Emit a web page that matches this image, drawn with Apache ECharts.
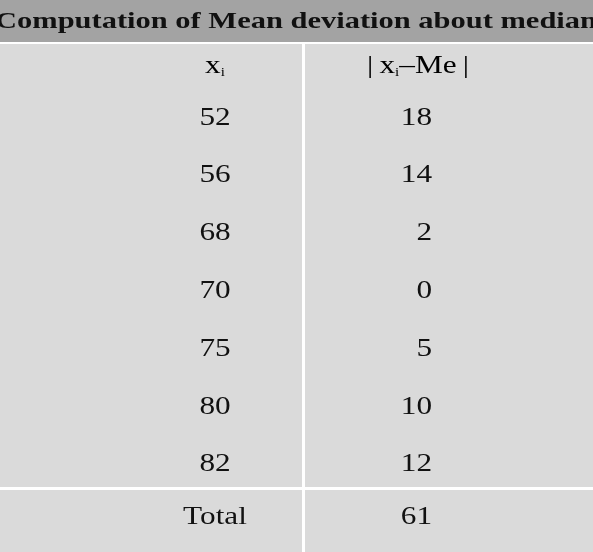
<!DOCTYPE html>
<html><head><meta charset="utf-8">
<script src="https://cdn.jsdelivr.net/npm/echarts@6/dist/echarts.min.js"></script>
<style>html,body{margin:0;padding:0;background:#fff}#c{width:593px;height:552px}</style>
</head><body><div id="c"></div>
<script>
// table data
const title = 'Computation of Mean deviation about median';
const xi = [52, 56, 68, 70, 75, 80, 82];
const dev = [18, 14, 2, 0, 5, 10, 12];
const totalLabel = 'Total';
const totalDev = 61;

const chart = echarts.init(document.getElementById('c'));
const font = '"Liberation Serif", "DejaVu Serif", serif';
const sx = 1.25;
const rich = {
  n: { fontFamily: font, fontSize: 25, color: '#111' },
  s: { fontFamily: font, fontSize: 12, color: '#111', verticalAlign: 'bottom', padding: [14, 0, 0, 0] }
};
function txt(x, y, text, align) {
  return { type: 'text', x: x, y: y, scaleX: sx,
    style: { text: text, fontFamily: font, fontSize: 25, fill: '#111', align: align, verticalAlign: 'middle' } };
}
let els = [
  { type: 'rect', shape: { x: 0, y: 0, width: 593, height: 42 }, style: { fill: '#a3a3a3' } },
  { type: 'rect', shape: { x: 0, y: 44, width: 593, height: 508 }, style: { fill: '#dadada' } },
  { type: 'rect', shape: { x: 302, y: 44, width: 3, height: 508 }, style: { fill: '#fff' } },
  { type: 'rect', shape: { x: 0, y: 487, width: 593, height: 3 }, style: { fill: '#fff' } },
  { type: 'text', x: 296, y: 22, scaleX: 1.27, style: { text: title, fontFamily: font, fontSize: 24, fontWeight: 'bold', fill: '#111', align: 'center', verticalAlign: 'middle' } },
  { type: 'text', x: 215, y: 66, scaleX: sx, style: { text: '{n|x}{s|i}', rich: rich, align: 'center', verticalAlign: 'middle' } },
  { type: 'text', x: 418, y: 66, scaleX: sx, style: { text: '{n||\u2009x}{s|i}{n|\u2013Me\u2009|}', rich: rich, align: 'center', verticalAlign: 'middle' } }
];
xi.forEach(function (v, i) {
  const y = 118 + i * 57.8;
  els.push(txt(215, y, String(v), 'center'));
  els.push(txt(432, y, String(dev[i]), 'right'));
});
els.push(txt(215, 517, totalLabel, 'center'));
els.push(txt(432, 517, String(totalDev), 'right'));

chart.setOption({ animation: false, graphic: { elements: els } });
</script></body></html>
